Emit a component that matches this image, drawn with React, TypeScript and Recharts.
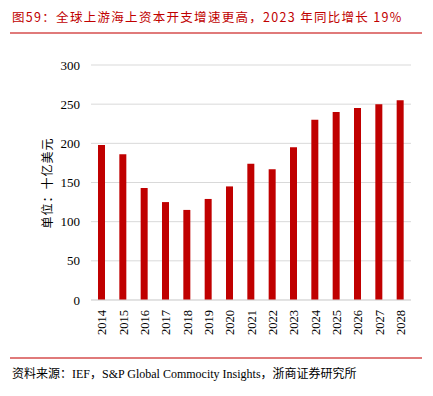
import React from "react";
import { BarChart, Bar, XAxis, YAxis, CartesianGrid } from "recharts";

const years = ["2014","2015","2016","2017","2018","2019","2020","2021","2022","2023","2024","2025","2026","2027","2028"];
const capex = [198, 186, 143, 125, 115, 129, 145, 174, 167, 195, 230, 240, 245, 250, 255];
const yTicks = [0, 50, 100, 150, 200, 250, 300];

const data = years.map((y, i) => ({ year: y, value: capex[i] }));

const XTick = (props: any) => {
  const { x, y, payload } = props;
  return (
    <text
      x={0}
      y={0}
      transform={`translate(${x + 4.5},${y + 2}) rotate(-90)`}
      textAnchor="end"
      fontFamily="'Liberation Serif', serif"
      fontSize={12.5}
      fill="#000"
    >
      {payload.value}
    </text>
  );
};

export default function App() {
  return (
    <div style={{ position: "absolute", left: 0, top: 0, width: 433, height: 396, background: "#fff" }}>
      <div
        style={{
          position: "absolute",
          left: 12,
          top: 8,
          fontFamily: "'Noto Sans CJK SC', sans-serif",
          fontSize: 12.5,
          letterSpacing: 1.3,
          color: "#C00000",
          whiteSpace: "nowrap",
          lineHeight: "18px",
        }}
      >
        图59：全球上游海上资本开支增速更高，2023 年同比增长 19%
      </div>
      <div style={{ position: "absolute", left: 10, top: 32, width: 412, height: 2, background: "#E07A7A" }} />
      <BarChart
        width={433}
        height={396}
        data={data}
        margin={{ top: 65, right: 22, left: 0, bottom: 0 }}
        style={{ position: "absolute", left: 0, top: 0 }}
      >
        <CartesianGrid vertical={false} stroke="#D9D9D9" strokeWidth={1} />
        <XAxis
          dataKey="year"
          axisLine={{ stroke: "#D9D9D9" }}
          tickLine={false}
          interval={0}
          height={96}
          tick={<XTick />}
        />
        <YAxis
          domain={[0, 300]}
          ticks={yTicks}
          axisLine={false}
          tickLine={false}
          width={91}
          tickMargin={5}
          tick={{ fontFamily: "'Liberation Serif', serif", fontSize: 13, fill: "#000" }}
        />
        <Bar dataKey="value" fill="#C00000" barSize={7} isAnimationActive={false} />
      </BarChart>
      <div
        style={{
          position: "absolute",
          left: 47,
          top: 183,
          transform: "translate(-50%, -50%) rotate(-90deg)",
          fontFamily: "'Liberation Serif', 'Noto Sans CJK SC', serif",
          fontSize: 12,
          color: "#000",
          whiteSpace: "nowrap",
          letterSpacing: 1,
        }}
      >
        单位：十亿美元
      </div>
      <div style={{ position: "absolute", left: 10, top: 357, width: 412, height: 2, background: "#E07A7A" }} />
      <div
        style={{
          position: "absolute",
          left: 12,
          top: 366,
          fontFamily: "'Liberation Serif', 'Noto Sans CJK SC', serif",
          fontSize: 12,
          color: "#000",
          whiteSpace: "nowrap",
          lineHeight: "16px",
        }}
      >
        资料来源：IEF，S&amp;P Global Commocity Insights，浙商证券研究所
      </div>
    </div>
  );
}
